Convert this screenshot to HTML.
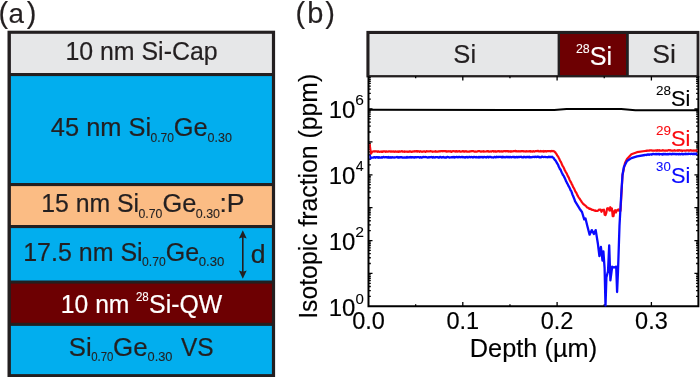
<!DOCTYPE html>
<html><head><meta charset="utf-8"><title>figure</title>
<style>
html,body{margin:0;padding:0;background:#fff;}
svg{display:block;font-family:"Liberation Sans",Arial,Helvetica,sans-serif;}
text{white-space:pre;paint-order:stroke;stroke-linejoin:round;}
</style></head><body>
<svg width="700" height="377" viewBox="0 0 700 377">
<rect width="700" height="377" fill="#fff"/>
<rect x="7.5" y="30.7" width="267.6" height="346.8" fill="#231f20"/>
<rect x="10.9" y="33.80" width="261.00" height="39.20" fill="#e6e7e8"/>
<rect x="10.9" y="76.10" width="261.00" height="106.90" fill="#02aeee"/>
<rect x="10.9" y="186.10" width="261.00" height="38.90" fill="#fbbc84"/>
<rect x="10.9" y="228.10" width="261.00" height="52.40" fill="#02aeee"/>
<rect x="10.9" y="283.60" width="261.00" height="39.20" fill="#6d0002"/>
<rect x="10.9" y="325.90" width="261.00" height="48.20" fill="#02aeee"/>
<text x="-1.6" y="22.9" font-size="29" fill="#231f20" stroke="#231f20" stroke-width="0.15">(<tspan dx="0.5" font-size="27.8">a</tspan><tspan dx="2.6">)</tspan></text>
<text transform="translate(295.59,22.60) scale(1.0000,1)" font-size="29" fill="#231f20" stroke="#231f20" stroke-width="0.15" letter-spacing="1.9">(b)</text>
<text transform="translate(65.43,60.00) scale(0.9957,1)" font-size="25" fill="#231f20" stroke="#231f20" stroke-width="0.20">10 nm Si-Cap</text>
<text transform="translate(50.83,136.00) scale(1.0172,1)" font-size="25" fill="#231f20" stroke="#231f20" stroke-width="0.20">45 nm Si</text>
<text transform="translate(150.52,141.60) scale(0.9639,1)" font-size="12.5" fill="#231f20" stroke="#231f20" stroke-width="0.10">0.70</text>
<text transform="translate(173.73,136.00) scale(1.0161,1)" font-size="25" fill="#231f20" stroke="#231f20" stroke-width="0.20">Ge</text>
<text transform="translate(207.50,141.60) scale(1.0024,1)" font-size="12.5" fill="#231f20" stroke="#231f20" stroke-width="0.10">0.30</text>
<text transform="translate(41.14,212.40) scale(0.9934,1)" font-size="25" fill="#231f20" stroke="#231f20" stroke-width="0.20">15 nm Si</text>
<text transform="translate(138.51,217.80) scale(0.9853,1)" font-size="12.5" fill="#231f20" stroke="#231f20" stroke-width="0.10">0.70</text>
<text transform="translate(162.43,212.40) scale(1.0161,1)" font-size="25" fill="#231f20" stroke="#231f20" stroke-width="0.20">Ge</text>
<text transform="translate(195.80,217.80) scale(0.9981,1)" font-size="12.5" fill="#231f20" stroke="#231f20" stroke-width="0.10">0.30</text>
<text transform="translate(219.40,212.40) scale(1.0667,1)" font-size="25" fill="#231f20" stroke="#231f20" stroke-width="0.20">:P</text>
<text transform="translate(23.23,261.30) scale(0.9997,1)" font-size="25" fill="#231f20" stroke="#231f20" stroke-width="0.20">17.5 nm Si</text>
<text transform="translate(142.01,266.30) scale(0.9724,1)" font-size="12.5" fill="#231f20" stroke="#231f20" stroke-width="0.10">0.70</text>
<text transform="translate(165.75,261.30) scale(1.0000,1)" font-size="25" fill="#231f20" stroke="#231f20" stroke-width="0.20">Ge</text>
<text transform="translate(198.77,266.30) scale(1.0538,1)" font-size="12.5" fill="#231f20" stroke="#231f20" stroke-width="0.10">0.30</text>
<text transform="translate(250.87,262.80) scale(1.0667,1)" font-size="25" fill="#231f20" stroke="#231f20" stroke-width="0.20">d</text>
<line x1="242.8" y1="233" x2="242.8" y2="276" stroke="#231f20" stroke-width="1.6"/>
<path d="M242.8 230.2 L246.70000000000002 238.4 L242.8 237.2 L238.9 238.4 Z" fill="#231f20"/>
<path d="M242.8 278.8 L246.70000000000002 270.6 L242.8 271.8 L238.9 270.6 Z" fill="#231f20"/>
<text transform="translate(60.85,313.40) scale(0.9864,1)" font-size="25" fill="#fff" stroke="#fff" stroke-width="0.20">10 nm</text>
<text transform="translate(135.92,301.20) scale(0.9278,1)" font-size="12.5" fill="#fff" stroke="#fff" stroke-width="0.10">28</text>
<text transform="translate(149.08,313.40) scale(0.9934,1)" font-size="25" fill="#fff" stroke="#fff" stroke-width="0.20">Si-QW</text>
<text transform="translate(68.84,355.90) scale(1.0289,1)" font-size="25" fill="#231f20" stroke="#231f20" stroke-width="0.20">Si</text>
<text transform="translate(91.14,361.40) scale(0.9124,1)" font-size="12.5" fill="#231f20" stroke="#231f20" stroke-width="0.10">0.70</text>
<text transform="translate(113.11,355.90) scale(1.0355,1)" font-size="25" fill="#231f20" stroke="#231f20" stroke-width="0.20">Ge</text>
<text transform="translate(147.49,361.40) scale(1.0281,1)" font-size="12.5" fill="#231f20" stroke="#231f20" stroke-width="0.10">0.30</text>
<text transform="translate(180.88,355.90) scale(0.9805,1)" font-size="25" fill="#231f20" stroke="#231f20" stroke-width="0.20">VS</text>
<rect x="366.4" y="30.9" width="333.0" height="46.50000000000001" fill="#231f20"/>
<rect x="369.5" y="34.0" width="188.10000000000005" height="41.099999999999994" fill="#e6e7e8"/>
<rect x="560" y="34.0" width="66" height="41.099999999999994" fill="#6d0002"/>
<rect x="628.8" y="34.0" width="67.80000000000007" height="41.099999999999994" fill="#e6e7e8"/>
<text transform="translate(453.35,62.90) scale(1.0238,1)" font-size="25" fill="#231f20" stroke="#231f20" stroke-width="0.15">Si</text>
<text transform="translate(575.98,52.50) scale(0.9907,1)" font-size="12.5" fill="#fff" stroke="#fff" stroke-width="0.07">28</text>
<text transform="translate(589.67,65.20) scale(1.0084,1)" font-size="25" fill="#fff" stroke="#fff" stroke-width="0.15">Si</text>
<text transform="translate(652.30,63.10) scale(1.0650,1)" font-size="25" fill="#231f20" stroke="#231f20" stroke-width="0.15">Si</text>
<path d="M368.5 76.2 V306.3 H698.4 V76.2" fill="none" stroke="#000" stroke-width="2"/>
<path d="M368.5 296.40 h2.3 M698.4 296.40 h-2.3 M368.5 290.61 h2.3 M698.4 290.61 h-2.3 M368.5 286.50 h2.3 M698.4 286.50 h-2.3 M368.5 283.32 h2.3 M698.4 283.32 h-2.3 M368.5 280.71 h2.3 M698.4 280.71 h-2.3 M368.5 278.51 h2.3 M698.4 278.51 h-2.3 M368.5 276.61 h2.3 M698.4 276.61 h-2.3 M368.5 274.92 h2.3 M698.4 274.92 h-2.3 M368.5 273.42 h4 M698.4 273.42 h-4 M368.5 263.52 h2.3 M698.4 263.52 h-2.3 M368.5 257.73 h2.3 M698.4 257.73 h-2.3 M368.5 253.62 h2.3 M698.4 253.62 h-2.3 M368.5 250.44 h2.3 M698.4 250.44 h-2.3 M368.5 247.83 h2.3 M698.4 247.83 h-2.3 M368.5 245.63 h2.3 M698.4 245.63 h-2.3 M368.5 243.73 h2.3 M698.4 243.73 h-2.3 M368.5 242.04 h2.3 M698.4 242.04 h-2.3 M368.5 240.54 h4 M698.4 240.54 h-4 M368.5 230.64 h2.3 M698.4 230.64 h-2.3 M368.5 224.85 h2.3 M698.4 224.85 h-2.3 M368.5 220.74 h2.3 M698.4 220.74 h-2.3 M368.5 217.56 h2.3 M698.4 217.56 h-2.3 M368.5 214.95 h2.3 M698.4 214.95 h-2.3 M368.5 212.75 h2.3 M698.4 212.75 h-2.3 M368.5 210.85 h2.3 M698.4 210.85 h-2.3 M368.5 209.16 h2.3 M698.4 209.16 h-2.3 M368.5 207.66 h4 M698.4 207.66 h-4 M368.5 197.76 h2.3 M698.4 197.76 h-2.3 M368.5 191.97 h2.3 M698.4 191.97 h-2.3 M368.5 187.86 h2.3 M698.4 187.86 h-2.3 M368.5 184.68 h2.3 M698.4 184.68 h-2.3 M368.5 182.07 h2.3 M698.4 182.07 h-2.3 M368.5 179.87 h2.3 M698.4 179.87 h-2.3 M368.5 177.97 h2.3 M698.4 177.97 h-2.3 M368.5 176.28 h2.3 M698.4 176.28 h-2.3 M368.5 174.78 h4 M698.4 174.78 h-4 M368.5 164.88 h2.3 M698.4 164.88 h-2.3 M368.5 159.09 h2.3 M698.4 159.09 h-2.3 M368.5 154.98 h2.3 M698.4 154.98 h-2.3 M368.5 151.80 h2.3 M698.4 151.80 h-2.3 M368.5 149.19 h2.3 M698.4 149.19 h-2.3 M368.5 146.99 h2.3 M698.4 146.99 h-2.3 M368.5 145.09 h2.3 M698.4 145.09 h-2.3 M368.5 143.40 h2.3 M698.4 143.40 h-2.3 M368.5 141.90 h4 M698.4 141.90 h-4 M368.5 132.00 h2.3 M698.4 132.00 h-2.3 M368.5 126.21 h2.3 M698.4 126.21 h-2.3 M368.5 122.10 h2.3 M698.4 122.10 h-2.3 M368.5 118.92 h2.3 M698.4 118.92 h-2.3 M368.5 116.31 h2.3 M698.4 116.31 h-2.3 M368.5 114.11 h2.3 M698.4 114.11 h-2.3 M368.5 112.21 h2.3 M698.4 112.21 h-2.3 M368.5 110.52 h2.3 M698.4 110.52 h-2.3 M368.5 109.02 h4 M698.4 109.02 h-4 M368.5 99.12 h2.3 M698.4 99.12 h-2.3 M368.5 93.33 h2.3 M698.4 93.33 h-2.3 M368.5 89.22 h2.3 M698.4 89.22 h-2.3 M368.5 86.04 h2.3 M698.4 86.04 h-2.3 M368.5 83.43 h2.3 M698.4 83.43 h-2.3 M368.5 81.23 h2.3 M698.4 81.23 h-2.3 M368.5 79.33 h2.3 M698.4 79.33 h-2.3 M368.5 77.64 h2.3 M698.4 77.64 h-2.3 M415.65 306.3 v-2.1 M415.65 76.2 v2.1 M462.80 306.3 v-4.3 M462.80 76.2 v4.3 M509.95 306.3 v-2.1 M509.95 76.2 v2.1 M557.10 306.3 v-4.3 M557.10 76.2 v4.3 M604.25 306.3 v-2.1 M604.25 76.2 v2.1 M651.40 306.3 v-4.3 M651.40 76.2 v4.3" fill="none" stroke="#000" stroke-width="1.3"/>
<text transform="translate(328.66,316.30) scale(1.0000,1)" font-size="24" fill="#000" stroke="#000" stroke-width="0.15">10</text>
<text transform="translate(355.40,303.50) scale(1.0770,1)" font-size="14" fill="#000" stroke="#000" stroke-width="0.07">0</text>
<text transform="translate(328.66,249.54) scale(1.0000,1)" font-size="24" fill="#000" stroke="#000" stroke-width="0.15">10</text>
<text transform="translate(355.21,236.74) scale(1.1303,1)" font-size="14" fill="#000" stroke="#000" stroke-width="0.07">2</text>
<text transform="translate(328.66,183.78) scale(1.0000,1)" font-size="24" fill="#000" stroke="#000" stroke-width="0.15">10</text>
<text transform="translate(355.68,170.98) scale(1.0184,1)" font-size="14" fill="#000" stroke="#000" stroke-width="0.07">4</text>
<text transform="translate(328.66,118.02) scale(1.0000,1)" font-size="24" fill="#000" stroke="#000" stroke-width="0.15">10</text>
<text transform="translate(355.22,105.22) scale(1.1120,1)" font-size="14" fill="#000" stroke="#000" stroke-width="0.07">6</text>
<text x="368.50" y="328.8" font-size="23.5" text-anchor="middle" fill="#000" stroke="#000" stroke-width="0.15">0.0</text>
<text x="462.80" y="328.8" font-size="23.5" text-anchor="middle" fill="#000" stroke="#000" stroke-width="0.15">0.1</text>
<text x="557.10" y="328.8" font-size="23.5" text-anchor="middle" fill="#000" stroke="#000" stroke-width="0.15">0.2</text>
<text x="651.40" y="328.8" font-size="23.5" text-anchor="middle" fill="#000" stroke="#000" stroke-width="0.15">0.3</text>
<text transform="translate(469.81,356.60) scale(1.0145,1)" font-size="25" fill="#000" stroke="#000" stroke-width="0.15">Depth (µm)</text>
<text transform="translate(317.2,318.79) rotate(-90) scale(0.9906,1)" font-size="25" fill="#000" stroke="#000" stroke-width="0.15">Isotopic fraction (ppm)</text>
<clipPath id="pc"><rect x="369.5" y="77" width="328" height="229.5"/></clipPath>
<g clip-path="url(#pc)">
<path d="M368.5 109.8 L554.3 109.9 L566.5 109.1 L621.2 109.1 L635.4 110.2 L708.0 110.2" fill="none" stroke="#000" stroke-width="2" stroke-linejoin="round" stroke-linecap="butt"/>
<path d="M369.6 143.9 L370.4 149.8 L371.0 153.6 L371.8 152.3 L372.5 151.6 L373.1 151.5 L373.6 151.3 L374.2 151.6 L374.8 151.3 L375.3 151.5 L375.9 151.3 L376.5 151.3 L377.0 151.5 L377.6 151.8 L378.2 151.3 L378.7 151.4 L379.3 151.7 L379.9 151.9 L380.4 151.6 L381.0 151.5 L381.6 151.9 L382.1 151.3 L382.7 151.8 L383.3 151.4 L383.9 151.3 L384.4 151.3 L385.0 151.4 L385.6 151.8 L386.1 151.3 L386.7 151.6 L387.3 151.7 L387.8 151.5 L388.4 151.6 L389.0 151.3 L389.5 151.3 L390.1 151.4 L390.7 151.7 L391.2 151.5 L391.8 151.4 L392.4 151.6 L392.9 151.5 L393.5 151.4 L394.1 151.8 L394.6 151.7 L395.2 151.4 L395.8 151.6 L396.3 151.6 L396.9 151.8 L397.5 151.7 L398.0 151.4 L398.6 151.9 L399.2 151.3 L399.7 151.5 L400.3 151.7 L400.9 151.3 L401.4 151.5 L402.0 151.2 L402.6 151.7 L403.1 151.7 L403.7 151.6 L404.3 151.8 L404.8 151.4 L405.4 151.7 L406.0 151.6 L406.6 151.6 L407.1 151.5 L407.7 151.8 L408.3 151.8 L408.8 151.5 L409.4 151.6 L410.0 151.2 L410.5 151.7 L411.1 151.6 L411.7 151.9 L412.2 151.7 L412.8 151.4 L413.4 151.4 L413.9 151.6 L414.5 151.2 L415.1 151.5 L415.6 151.3 L416.2 151.2 L416.8 151.2 L417.3 151.7 L417.9 151.2 L418.5 151.3 L419.0 151.4 L419.6 151.8 L420.2 151.2 L420.7 151.5 L421.3 151.5 L421.9 151.8 L422.4 151.7 L423.0 151.7 L423.6 151.3 L424.1 151.4 L424.7 151.4 L425.3 151.8 L425.8 151.8 L426.4 151.2 L427.0 151.3 L427.5 151.3 L428.1 151.3 L428.7 151.5 L429.2 151.5 L429.8 151.3 L430.4 151.1 L431.0 151.4 L431.5 151.4 L432.1 151.5 L432.7 151.8 L433.2 151.6 L433.8 151.5 L434.4 151.5 L434.9 151.6 L435.5 151.1 L436.1 151.7 L436.6 151.7 L437.2 151.7 L437.8 151.7 L438.3 151.4 L438.9 151.4 L439.5 151.2 L440.0 151.5 L440.6 151.1 L441.2 151.1 L441.7 151.2 L442.3 151.2 L442.9 151.3 L443.4 151.1 L444.0 151.1 L444.6 151.2 L445.1 151.2 L445.7 151.3 L446.3 151.1 L446.8 151.7 L447.4 151.5 L448.0 151.2 L448.5 151.3 L449.1 151.3 L449.7 151.3 L450.2 151.2 L450.8 151.7 L451.4 151.8 L451.9 151.4 L452.5 151.4 L453.1 151.1 L453.7 151.1 L454.2 151.3 L454.8 151.3 L455.4 151.6 L455.9 151.2 L456.5 151.1 L457.1 151.7 L457.6 151.4 L458.2 151.2 L458.8 151.4 L459.3 151.1 L459.9 151.4 L460.5 151.7 L461.0 151.7 L461.6 151.5 L462.2 151.2 L462.7 151.3 L463.3 151.2 L463.9 151.6 L464.4 151.4 L465.0 151.6 L465.6 151.3 L466.1 151.2 L466.7 151.6 L467.3 151.7 L467.8 151.6 L468.4 151.6 L469.0 151.6 L469.5 151.6 L470.1 151.2 L470.7 151.4 L471.2 151.3 L471.8 151.1 L472.4 151.0 L472.9 151.2 L473.5 151.2 L474.1 151.5 L474.6 151.7 L475.2 151.3 L475.8 151.7 L476.4 151.7 L476.9 151.7 L477.5 151.3 L478.1 151.2 L478.6 151.2 L479.2 151.2 L479.8 151.2 L480.3 151.4 L480.9 151.6 L481.5 151.6 L482.0 151.3 L482.6 151.5 L483.2 151.6 L483.7 151.1 L484.3 151.5 L484.9 151.6 L485.4 151.5 L486.0 151.5 L486.6 151.3 L487.1 151.1 L487.7 151.5 L488.3 151.2 L488.8 151.6 L489.4 151.7 L490.0 151.3 L490.5 151.3 L491.1 151.7 L491.7 151.5 L492.2 151.1 L492.8 151.1 L493.4 151.1 L493.9 151.6 L494.5 151.5 L495.1 151.1 L495.6 151.6 L496.2 151.7 L496.8 151.4 L497.4 151.2 L497.9 151.4 L498.5 151.1 L499.1 151.0 L499.6 151.6 L500.2 151.4 L500.8 151.3 L501.3 151.6 L501.9 151.3 L502.5 151.6 L503.0 151.5 L503.6 151.1 L504.2 151.1 L504.7 151.2 L505.3 151.1 L505.9 151.4 L506.4 151.1 L507.0 151.2 L507.6 151.0 L508.1 151.6 L508.7 151.2 L509.3 151.3 L509.8 151.4 L510.4 151.6 L511.0 151.2 L511.5 151.6 L512.1 151.3 L512.7 151.3 L513.2 151.3 L513.8 151.0 L514.4 151.2 L514.9 151.1 L515.5 150.9 L516.1 151.5 L516.6 151.1 L517.2 151.3 L517.8 151.4 L518.3 151.3 L518.9 151.2 L519.5 151.3 L520.0 151.3 L520.6 151.5 L521.2 151.0 L521.8 151.3 L522.3 151.1 L522.9 151.1 L523.5 151.5 L524.0 151.3 L524.6 151.3 L525.2 151.4 L525.7 151.6 L526.3 151.2 L526.9 151.3 L527.4 151.3 L528.0 151.3 L528.6 151.4 L529.1 151.2 L529.7 151.3 L530.3 151.2 L530.8 151.6 L531.4 151.4 L532.0 151.5 L532.5 151.6 L533.1 151.1 L533.7 151.3 L534.2 151.6 L534.8 151.5 L535.4 151.0 L535.9 151.0 L536.5 151.2 L537.1 150.9 L537.6 151.1 L538.2 150.9 L538.8 151.4 L539.3 151.4 L539.9 151.5 L540.5 151.0 L541.0 151.4 L541.6 151.3 L542.2 151.0 L542.8 151.5 L543.3 151.6 L543.9 151.0 L544.5 151.5 L545.0 151.1 L545.6 151.2 L546.2 151.6 L546.7 151.4 L547.3 151.0 L547.9 151.2 L548.4 151.2 L549.0 151.1 L549.6 151.0 L550.1 151.1 L550.7 151.4 L551.3 150.9 L551.8 151.2 L552.4 151.2 L553.0 150.9 L553.5 151.1 L554.1 151.3 L554.7 151.9 L555.3 152.2 L555.9 153.5 L556.5 154.0 L557.2 155.5 L557.9 156.2 L558.6 157.6 L559.3 158.8 L559.9 160.5 L560.5 161.3 L561.1 162.4 L561.7 163.8 L562.3 165.3 L562.9 166.4 L563.5 167.2 L564.1 168.4 L564.7 170.1 L565.3 171.0 L565.9 172.3 L566.5 173.1 L567.1 174.3 L567.7 175.9 L568.3 176.9 L568.9 177.9 L569.5 179.7 L570.1 180.7 L570.7 182.0 L571.2 182.7 L571.8 184.4 L572.4 185.0 L573.0 186.8 L573.6 187.7 L574.2 188.8 L574.8 190.1 L575.4 191.6 L576.0 192.3 L576.6 193.4 L577.2 194.9 L577.8 195.9 L578.4 197.0 L579.0 197.9 L579.6 198.7 L580.2 199.6 L580.8 200.5 L581.4 201.4 L582.0 202.5 L582.6 203.0 L583.2 204.0 L583.8 204.3 L584.4 204.9 L585.0 205.2 L585.6 205.8 L586.2 206.2 L586.8 207.2 L587.4 207.5 L588.0 207.8 L588.6 208.2 L589.2 208.8 L589.8 208.4 L590.4 209.2 L590.9 209.1 L591.5 209.4 L592.1 209.9 L592.7 209.8 L593.3 210.0 L593.9 210.3 L594.5 210.7 L595.1 210.3 L595.7 210.8 L596.3 210.9 L596.9 211.0 L597.5 211.0 L597.5 210.7 L598.3 210.5 L599.1 209.6 L599.9 209.8 L600.7 209.6 L601.5 211.8 L602.3 210.2 L603.1 209.9 L603.9 209.7 L604.7 214.8 L605.5 215.1 L606.3 212.9 L607.1 208.6 L607.9 208.2 L608.7 208.7 L609.5 210.6 L610.3 207.2 L611.1 210.4 L611.9 208.4 L612.7 216.1 L613.5 216.2 L614.3 211.2 L615.1 210.2 L615.9 212.5 L616.7 210.4 L617.5 210.5 L618.3 209.4 L619.1 210.6 L620.5 211.0 L622.5 175.0 L625.0 163.0 L627.0 159.0 L631.4 154.3 L637.0 152.2 L645.0 151.0 L645.6 151.0 L646.2 150.7 L646.8 150.9 L647.4 150.5 L648.0 150.6 L648.6 150.5 L649.2 150.6 L649.8 150.4 L650.4 150.3 L651.0 150.5 L651.6 150.4 L652.2 150.6 L652.8 150.5 L653.4 150.6 L654.0 150.5 L654.6 150.6 L655.1 150.7 L655.7 150.3 L656.3 150.3 L656.8 150.8 L657.4 150.2 L658.0 150.6 L658.6 150.5 L659.1 150.1 L659.7 150.7 L660.3 150.7 L660.8 150.5 L661.4 150.6 L662.0 150.7 L662.5 150.2 L663.1 150.5 L663.7 150.4 L664.2 150.7 L664.8 150.7 L665.4 150.7 L665.9 150.5 L666.5 150.7 L667.1 150.6 L667.7 150.6 L668.2 150.3 L668.8 150.1 L669.4 150.2 L669.9 150.4 L670.5 150.2 L671.1 150.7 L671.6 150.5 L672.2 150.6 L672.8 150.6 L673.3 150.6 L673.9 150.5 L674.5 150.1 L675.0 150.7 L675.6 150.7 L676.2 150.5 L676.8 150.5 L677.3 150.6 L677.9 150.2 L678.5 150.7 L679.0 150.3 L679.6 150.2 L680.2 150.4 L680.7 150.7 L681.3 150.3 L681.9 150.7 L682.4 150.9 L683.0 150.5 L683.6 150.5 L684.1 150.5 L684.7 150.7 L685.3 150.7 L685.9 150.6 L686.4 150.6 L687.0 150.3 L687.6 150.3 L688.1 150.4 L688.7 150.7 L689.3 150.4 L689.8 150.6 L690.4 150.2 L691.0 150.3 L691.5 150.4 L692.1 150.7 L692.7 150.7 L693.2 150.7 L693.8 150.4 L694.4 150.6 L695.0 150.6 L695.5 150.6 L696.1 150.3 L696.7 150.9 L697.2 150.4 L697.8 150.6" fill="none" stroke="#fa0a10" stroke-width="2.2" stroke-linejoin="round" stroke-linecap="butt"/>
<path d="M369.5 154.8 L370.5 158.6 L371.2 157.7 L371.8 157.7 L372.5 157.6 L373.1 157.7 L373.6 157.4 L374.2 157.2 L374.8 157.2 L375.3 157.7 L375.9 157.2 L376.5 157.4 L377.0 157.1 L377.6 157.4 L378.2 157.7 L378.7 157.1 L379.3 157.6 L379.9 157.4 L380.4 157.7 L381.0 157.5 L381.6 157.2 L382.1 157.7 L382.7 157.4 L383.3 157.0 L383.8 157.0 L384.4 157.4 L385.0 157.3 L385.5 157.2 L386.1 157.1 L386.7 157.3 L387.2 157.2 L387.8 157.6 L388.4 157.0 L388.9 157.5 L389.5 157.6 L390.1 157.1 L390.6 157.7 L391.2 157.5 L391.8 157.6 L392.3 157.2 L392.9 157.3 L393.5 157.3 L394.0 157.7 L394.6 157.4 L395.2 157.3 L395.7 157.3 L396.3 157.2 L396.9 157.0 L397.4 157.1 L398.0 157.6 L398.6 157.2 L399.1 157.6 L399.7 157.2 L400.3 157.2 L400.8 157.3 L401.4 157.1 L402.0 157.2 L402.5 157.7 L403.1 157.6 L403.7 157.5 L404.2 157.4 L404.8 157.6 L405.4 157.6 L405.9 157.4 L406.5 157.5 L407.1 157.0 L407.6 157.5 L408.2 157.3 L408.8 157.5 L409.3 157.4 L409.9 157.2 L410.5 157.0 L411.0 157.6 L411.6 157.1 L412.2 157.3 L412.7 157.2 L413.3 157.2 L413.9 157.5 L414.4 157.6 L415.0 157.1 L415.6 157.4 L416.1 157.2 L416.7 157.3 L417.3 157.2 L417.9 157.1 L418.4 157.1 L419.0 157.1 L419.6 157.6 L420.1 157.3 L420.7 157.1 L421.3 157.6 L421.8 157.6 L422.4 157.3 L423.0 157.0 L423.5 157.1 L424.1 157.0 L424.7 157.2 L425.2 157.0 L425.8 157.1 L426.4 157.1 L426.9 157.3 L427.5 157.5 L428.1 157.5 L428.6 157.2 L429.2 157.2 L429.8 157.3 L430.3 157.2 L430.9 157.2 L431.5 157.0 L432.0 157.1 L432.6 157.6 L433.2 157.0 L433.7 157.3 L434.3 157.4 L434.9 157.5 L435.4 157.1 L436.0 157.1 L436.6 157.1 L437.1 157.2 L437.7 157.2 L438.3 157.6 L438.8 157.5 L439.4 157.5 L440.0 156.9 L440.5 156.9 L441.1 157.4 L441.7 157.5 L442.2 157.2 L442.8 157.3 L443.4 156.9 L443.9 157.2 L444.5 157.5 L445.1 157.5 L445.6 157.5 L446.2 157.6 L446.8 157.1 L447.3 157.0 L447.9 157.0 L448.5 157.2 L449.0 157.4 L449.6 157.5 L450.2 157.4 L450.7 157.3 L451.3 157.4 L451.9 157.2 L452.4 157.3 L453.0 156.9 L453.6 157.4 L454.1 157.0 L454.7 157.5 L455.3 157.3 L455.8 157.1 L456.4 157.0 L457.0 157.0 L457.5 157.3 L458.1 157.3 L458.7 156.9 L459.2 156.9 L459.8 157.2 L460.4 157.3 L460.9 157.1 L461.5 157.0 L462.1 157.3 L462.6 156.9 L463.2 157.1 L463.8 157.2 L464.3 157.5 L464.9 157.3 L465.5 157.5 L466.0 157.2 L466.6 157.0 L467.2 157.0 L467.7 157.5 L468.3 157.3 L468.9 157.1 L469.4 156.8 L470.0 157.2 L470.6 157.3 L471.1 157.1 L471.7 157.0 L472.3 157.3 L472.8 157.5 L473.4 157.0 L474.0 156.8 L474.5 157.1 L475.1 157.1 L475.7 157.3 L476.2 157.0 L476.8 157.4 L477.4 157.3 L477.9 157.2 L478.5 157.0 L479.1 157.5 L479.6 157.0 L480.2 157.4 L480.8 157.0 L481.3 157.0 L481.9 157.3 L482.5 157.0 L483.0 157.5 L483.6 157.1 L484.2 156.9 L484.7 157.0 L485.3 157.1 L485.9 157.3 L486.4 157.5 L487.0 156.9 L487.6 157.1 L488.1 156.9 L488.7 157.5 L489.3 156.9 L489.8 156.8 L490.4 156.8 L491.0 157.1 L491.5 157.4 L492.1 157.4 L492.7 157.3 L493.2 157.5 L493.8 157.4 L494.4 157.0 L494.9 156.9 L495.5 157.4 L496.1 157.3 L496.6 156.8 L497.2 157.2 L497.8 157.0 L498.3 157.0 L498.9 157.0 L499.5 156.9 L500.0 156.8 L500.6 157.0 L501.2 157.0 L501.7 157.4 L502.3 156.8 L502.9 157.4 L503.4 156.9 L504.0 157.0 L504.6 157.3 L505.1 157.3 L505.7 157.1 L506.3 156.8 L506.8 157.1 L507.4 157.0 L508.0 157.4 L508.6 156.9 L509.1 157.0 L509.7 157.4 L510.3 156.8 L510.8 157.0 L511.4 157.3 L512.0 157.3 L512.5 156.8 L513.1 156.8 L513.7 156.8 L514.2 157.4 L514.8 156.9 L515.4 157.3 L515.9 157.4 L516.5 157.0 L517.1 156.9 L517.6 157.4 L518.2 157.2 L518.8 156.9 L519.3 157.2 L519.9 156.9 L520.5 156.9 L521.0 156.7 L521.6 157.2 L522.2 157.4 L522.7 157.2 L523.3 157.4 L523.9 156.7 L524.4 156.9 L525.0 157.0 L525.6 157.4 L526.1 157.4 L526.7 157.0 L527.3 156.9 L527.8 157.0 L528.4 157.0 L529.0 157.4 L529.5 156.8 L530.1 157.3 L530.7 157.2 L531.2 157.3 L531.8 157.2 L532.4 157.1 L532.9 156.9 L533.5 156.9 L534.1 156.9 L534.6 157.2 L535.2 156.7 L535.8 156.8 L536.3 157.2 L536.9 156.9 L537.5 156.7 L538.0 156.7 L538.6 157.1 L539.2 156.9 L539.7 157.4 L540.3 157.3 L540.9 157.4 L541.4 156.9 L542.0 156.7 L542.6 156.7 L543.1 157.0 L543.7 157.2 L544.3 157.0 L544.8 156.8 L545.4 157.0 L546.0 157.1 L546.5 157.1 L547.1 157.2 L547.7 157.3 L548.2 157.1 L548.8 156.7 L549.4 157.2 L549.9 156.9 L550.5 157.1 L551.1 156.9 L551.6 157.2 L552.2 156.8 L552.8 157.4 L553.4 157.9 L553.9 158.4 L554.5 159.5 L555.1 160.1 L555.7 160.8 L556.3 161.8 L556.9 163.0 L557.5 163.9 L558.1 164.9 L558.7 166.5 L559.3 167.6 L559.9 169.0 L560.5 169.5 L561.1 171.0 L561.7 172.4 L562.3 173.6 L562.9 174.9 L563.5 175.5 L564.1 176.9 L564.7 177.9 L565.3 179.2 L565.9 180.9 L566.5 181.9 L567.1 183.3 L567.7 184.1 L568.3 185.6 L568.9 186.5 L569.5 187.6 L570.1 189.1 L570.7 190.4 L571.3 191.0 L571.9 193.0 L572.5 194.7 L573.1 196.0 L573.8 197.7 L574.4 199.2 L575.0 201.1 L579.6 208.7 L582.0 212.0 L584.2 219.4 L585.5 218.5 L587.2 225.5 L589.6 234.7 L591.8 230.1 L593.9 234.0 L595.7 230.1 L597.9 243.8 L599.4 256.0 L600.9 246.9 L602.5 260.6 L603.4 251.4 L604.6 268.2 L605.5 306.0 L606.4 277.4 L608.0 271.3 L609.2 245.3 L610.4 280.4 L612.2 266.7 L614.0 267.5 L616.2 266.7 L617.1 292.0 L618.0 271.3 L619.5 225.5 L621.2 195.0 L622.5 175.0 L623.9 167.0 L627.0 161.0 L631.4 158.1 L637.0 156.3 L645.0 155.0 L645.6 154.8 L646.2 155.0 L646.8 154.9 L647.4 154.6 L648.0 154.4 L648.6 154.6 L649.2 154.8 L649.8 154.4 L650.4 154.4 L651.0 154.3 L651.6 154.6 L652.2 154.4 L652.8 154.0 L653.4 154.0 L654.0 154.1 L654.6 154.2 L655.1 154.3 L655.7 153.9 L656.3 153.9 L656.8 154.3 L657.4 154.1 L658.0 154.0 L658.6 154.0 L659.1 154.5 L659.7 154.0 L660.3 154.2 L660.8 154.1 L661.4 154.1 L662.0 154.4 L662.5 154.5 L663.1 154.0 L663.7 153.9 L664.2 154.3 L664.8 153.9 L665.4 153.8 L665.9 154.4 L666.5 154.1 L667.1 154.3 L667.7 154.0 L668.2 154.4 L668.8 154.1 L669.4 153.9 L669.9 153.8 L670.5 154.1 L671.1 154.2 L671.6 154.4 L672.2 153.8 L672.8 154.2 L673.3 154.0 L673.9 154.1 L674.5 153.8 L675.0 153.9 L675.6 154.1 L676.2 154.3 L676.8 153.8 L677.3 154.0 L677.9 154.2 L678.5 154.4 L679.0 153.8 L679.6 153.8 L680.2 154.3 L680.7 154.3 L681.3 154.0 L681.9 153.7 L682.4 154.3 L683.0 153.9 L683.6 154.3 L684.1 154.1 L684.7 154.2 L685.3 153.7 L685.9 154.2 L686.4 153.8 L687.0 153.9 L687.6 154.2 L688.1 154.2 L688.7 153.7 L689.3 153.8 L689.8 153.9 L690.4 154.0 L691.0 153.9 L691.5 153.7 L692.1 153.8 L692.7 154.1 L693.2 154.2 L693.8 153.6 L694.4 154.0 L695.0 154.1 L695.5 153.6 L696.1 154.1 L696.7 153.6 L697.2 154.0 L697.8 153.9" fill="none" stroke="#0a0aff" stroke-width="2.3" stroke-linejoin="round" stroke-linecap="butt"/>
</g>
<text transform="translate(655.93,94.70) scale(1.0771,1)" font-size="12.5" fill="#000" stroke="#000" stroke-width="0.07">28</text>
<text transform="translate(671.02,106.30) scale(0.9880,1)" font-size="22" fill="#000" stroke="#000" stroke-width="0.15">Si</text>
<text transform="translate(655.93,135.00) scale(1.0798,1)" font-size="12.5" fill="#fa0a10" stroke="#fa0a10" stroke-width="0.07">29</text>
<text transform="translate(671.02,146.30) scale(0.9880,1)" font-size="22" fill="#fa0a10" stroke="#fa0a10" stroke-width="0.15">Si</text>
<text transform="translate(656.10,170.70) scale(1.0589,1)" font-size="12.5" fill="#0a0aff" stroke="#0a0aff" stroke-width="0.07">30</text>
<text transform="translate(671.02,182.60) scale(0.9880,1)" font-size="22" fill="#0a0aff" stroke="#0a0aff" stroke-width="0.15">Si</text>
</svg>
</body></html>
